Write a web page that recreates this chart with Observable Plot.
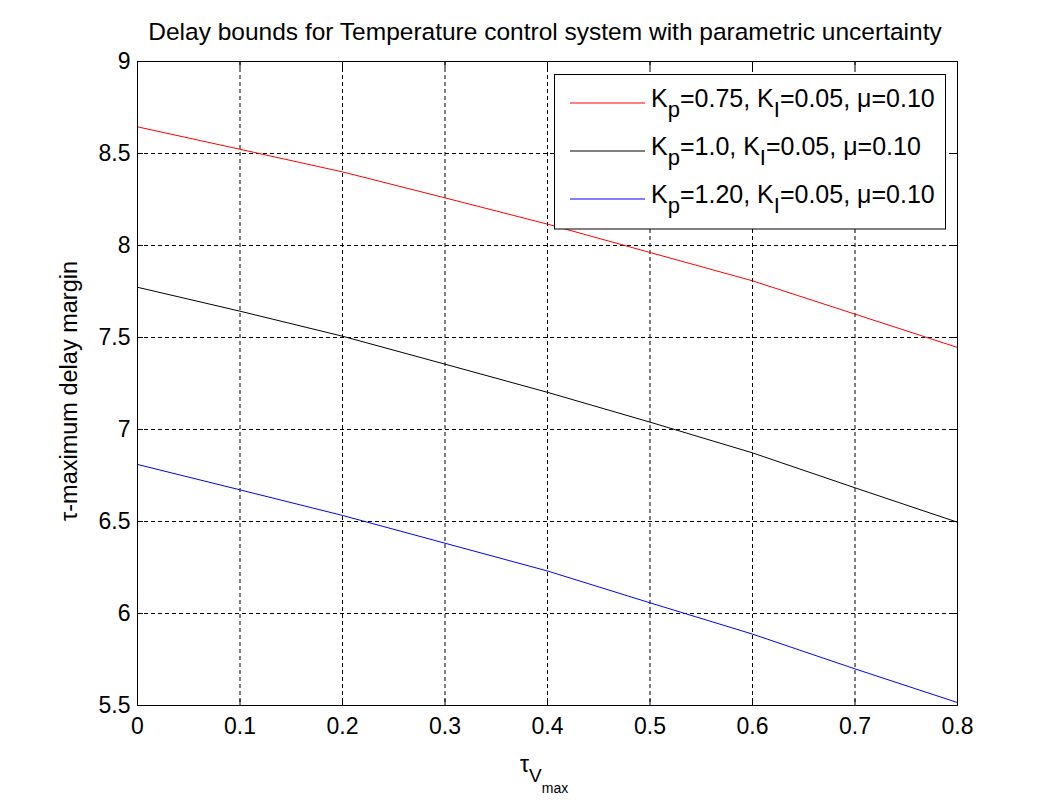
<!DOCTYPE html>
<html><head><meta charset="utf-8">
<script src="https://cdn.jsdelivr.net/npm/d3@7"></script>
<script src="https://cdn.jsdelivr.net/npm/@observablehq/plot@0.6"></script>
<style>
body{margin:0;background:#fff}
svg text{font-family:"Liberation Sans",Arial,sans-serif}
</style>
</head><body><div id="chart"></div>
<script>
// Data
const tauV = [0, 0.1, 0.2, 0.3, 0.4, 0.5, 0.6, 0.7, 0.8];
const kp075 = [8.645, 8.523, 8.400, 8.259, 8.116, 7.962, 7.808, 7.627, 7.446];
const kp100 = [7.773, 7.643, 7.507, 7.355, 7.202, 7.040, 6.873, 6.683, 6.496];
const kp120 = [6.810, 6.672, 6.533, 6.382, 6.231, 6.058, 5.888, 5.699, 5.516];
const seriesKeys = ["Kp=0.75", "Kp=1.0", "Kp=1.20"];
const kpLabels = ["0.75", "1.0", "1.20"];
const seriesColors = ["#ff0000", "#000000", "#0000ff"];
const xTicks = [0, 0.1, 0.2, 0.3, 0.4, 0.5, 0.6, 0.7, 0.8];
const yTicks = [5.5, 6, 6.5, 7, 7.5, 8, 8.5, 9];
const titleText = "Delay bounds for Temperature control system with parametric uncertainty";
const yLabelText = "τ-maximum delay margin";

const seriesValues = [kp075, kp100, kp120];
const rows = [];
seriesValues.forEach((vals, i) => vals.forEach((v, j) => rows.push({s: seriesKeys[i], t: tauV[j], v})));

const W = 1057, H = 803, mL = 137, mR = 100, mT = 61, mB = 98;
const fmt = d => String(d);
const blank = () => "";

const plot = Plot.plot({
  width: W, height: H,
  marginLeft: mL, marginRight: mR, marginTop: mT, marginBottom: mB,
  style: {fontFamily: "Liberation Sans, Arial, sans-serif", fontSize: "23px", background: "#fff", color: "#000", overflow: "visible"},
  x: {domain: [0, 0.8], ticks: xTicks, label: null},
  y: {domain: [5.5, 9], ticks: yTicks, label: null},
  color: {domain: seriesKeys, range: seriesColors},
  marks: [
    Plot.gridX(xTicks, {stroke: "#000", strokeOpacity: 1, strokeWidth: 1, strokeDasharray: "4,3"}),
    Plot.gridY(yTicks, {stroke: "#000", strokeOpacity: 1, strokeWidth: 1, strokeDasharray: "4,3"}),
    Plot.axisX(xTicks, {tickSize: 0, tickPadding: 12, fontSize: 23, tickFormat: fmt}),
    Plot.axisY(yTicks, {tickSize: 0, tickPadding: 7, fontSize: 23, tickFormat: fmt}),
    Plot.axisX(xTicks, {anchor: "bottom", tickSize: -6, tickFormat: blank, label: null, strokeOpacity: 1}),
    Plot.axisX(xTicks, {anchor: "top", tickSize: -6, tickFormat: blank, label: null, strokeOpacity: 1}),
    Plot.axisY(yTicks, {anchor: "left", tickSize: -6, tickFormat: blank, label: null, strokeOpacity: 1}),
    Plot.axisY(yTicks, {anchor: "right", tickSize: -6, tickFormat: blank, label: null, strokeOpacity: 1}),
    Plot.line(rows, {x: "t", y: "v", z: "s", stroke: "s", strokeWidth: 1}),
    Plot.frame({stroke: "#000", strokeWidth: 1})
  ]
});

const svg = d3.select(plot);
const ff = "Liberation Sans, Arial, sans-serif";

// Title
svg.append("text").attr("x", (mL + W - mR) / 2 - 2).attr("y", 39.5)
  .attr("text-anchor", "middle").attr("font-size", 24.5).attr("font-family", ff).attr("fill", "#000")
  .text(titleText);

// Y label
svg.append("text").attr("transform", "translate(77,391) rotate(-90)")
  .attr("text-anchor", "middle").attr("font-size", 23.5).attr("font-family", ff).attr("fill", "#000")
  .text(yLabelText);

// X label with subscripts
const xl = svg.append("text").attr("x", 520).attr("y", 772).attr("text-anchor", "start").attr("font-family", ff).attr("fill", "#000");
xl.append("tspan").attr("font-size", 23).text("τ");
xl.append("tspan").attr("font-size", 19).attr("dy", 10).text("V");
xl.append("tspan").attr("font-size", 14).attr("dy", 11).text("max");

// Legend
const lg = svg.append("g");
lg.append("rect").attr("x", 554.5).attr("y", 74.5).attr("width", 391).attr("height", 154.5)
  .attr("fill", "#fff").attr("stroke", "#000");
kpLabels.forEach((kp, i) => {
  const y = 103 + i * 48;
  lg.append("line").attr("x1", 570).attr("x2", 645).attr("y1", y).attr("y2", y)
    .attr("stroke", seriesColors[i]).attr("stroke-width", 1);
  const t = lg.append("text").attr("x", 651).attr("y", y + 4).attr("text-anchor", "start")
    .attr("font-family", ff).attr("font-size", 25).attr("fill", "#000");
  t.append("tspan").text("K");
  t.append("tspan").attr("font-size", 22).attr("dy", 10).text("p");
  t.append("tspan").attr("dy", -10).text("=" + kp + ", K");
  t.append("tspan").attr("font-size", 22).attr("dy", 10).text("I");
  t.append("tspan").attr("dy", -10).text("=0.05, μ=0.10");
});

document.getElementById("chart").appendChild(plot);
</script>
</body></html>
